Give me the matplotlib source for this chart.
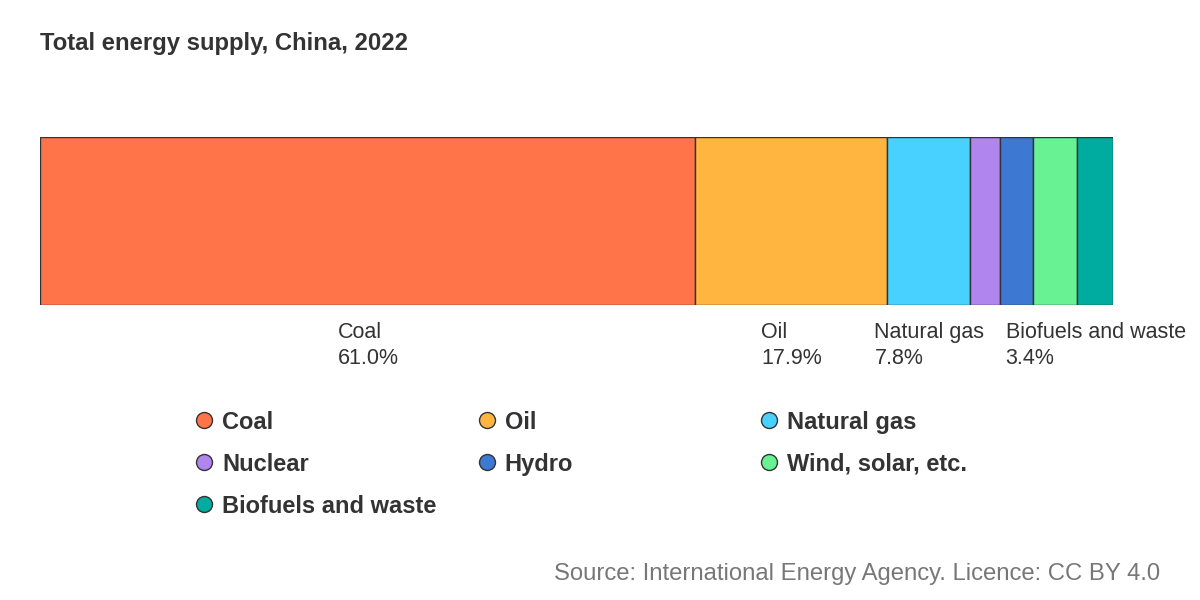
import matplotlib.pyplot as plt
from matplotlib.lines import Line2D
import numpy as np

plt.rcParams['font.family'] = ['Liberation Sans', 'DejaVu Sans']

# share of total energy supply, %
sources = ['Coal', 'Oil', 'Natural gas', 'Nuclear', 'Hydro', 'Wind, solar, etc.', 'Biofuels and waste']
shares = [61.0, 17.9, 7.8, 2.8, 3.0, 4.1, 3.4]
colors = ['#ff7449', '#ffb53f', '#48d1ff', '#b185ee', '#3d78d3', '#69f293', '#00ac9f']
# only these segments carry a label under the bar
labelled = ['Coal', 'Oil', 'Natural gas', 'Biofuels and waste']

text_col = '#333333'
W, H = 1200, 600

fig = plt.figure(figsize=(12, 6), dpi=100)
ax = fig.add_axes([40 / W, 1 - 305 / H, 1073 / W, 168 / H])

lefts = np.concatenate([[0], np.cumsum(shares)[:-1]])
ax.barh(0, shares, left=lefts, height=1, color=colors, edgecolor='#333333', linewidth=1)
ax.set_xlim(0, sum(shares))
ax.set_ylim(-0.5, 0.5)
ax.axis('off')

for name, s, l in zip(sources, shares, lefts):
    if name not in labelled:
        continue
    ax.annotate(f'{name}\n{s:.1f}%', xy=(l + s / 2, 0), xycoords=('data', 'axes fraction'),
                xytext=(1, -17), textcoords='offset pixels', ha='center', va='top',
                multialignment='left', fontsize=15.5, color=text_col, linespacing=1.3)

fig.text(40 / W, 1 - 50 / H, 'Total energy supply, China, 2022', fontsize=17.2,
         fontweight='bold', color=text_col, ha='left', va='baseline')

# legend, three even columns
for i, (name, c) in enumerate(zip(sources, colors)):
    col, row = i % 3, i // 3
    x = 204 + col * 282.5
    y = 420 + row * 42
    fig.add_artist(Line2D([x / W], [1 - y / H], marker='o', markersize=11.5,
                          markerfacecolor=c, markeredgecolor='#333333', markeredgewidth=1,
                          linestyle='none', transform=fig.transFigure))
    fig.text((x + 18) / W, 1 - y / H, name, fontsize=17, fontweight='bold',
             color=text_col, ha='left', va='center_baseline')

fig.text(1160 / W, 1 - 580 / H, 'Source: International Energy Agency. Licence: CC BY 4.0',
         fontsize=17.2, color='#777777', ha='right', va='baseline')

fig.savefig('out.png', dpi=100, facecolor='white')
